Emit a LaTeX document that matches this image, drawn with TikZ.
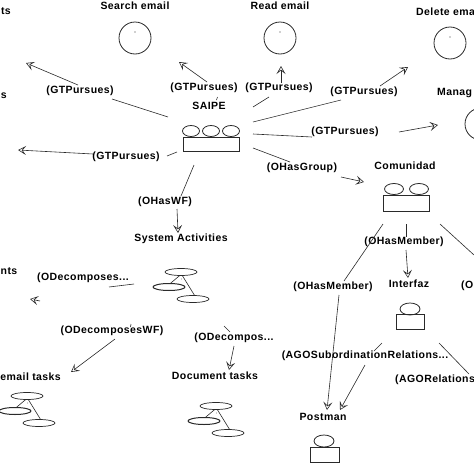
\documentclass[tikz,border=0pt]{standalone}
\usepackage{fontspec}
\setmainfont[LetterSpace=4]{Liberation Sans}
\usepackage{xcolor}
\usepackage{tikz}
\usetikzlibrary{arrows.meta,shapes.geometric}
\definecolor{ink}{HTML}{2A2A2A}
\definecolor{speck}{HTML}{A0A0A0}
\newcommand{\trail}{...}
\tikzset{
  lbl/.style={inner sep=0pt,text=black,font=\fontsize{10.5}{12}\selectfont\bfseries},
  plainlink/.style={draw=ink,line width=0.6pt},
  flow/.style={plainlink,-{Stealth[open,length=8pt,width=9pt,inset=3.5pt]}},
  goalshape/.style={circle,draw=ink,line width=0.8pt,minimum size=32pt,inner sep=0pt,outer sep=0pt},
  headshape/.style={ellipse,draw=ink,line width=0.8pt,inner sep=0pt,outer sep=0pt,minimum width=20pt,minimum height=12pt},
  bodyshape/.style={rectangle,draw=ink,line width=0.7pt,inner sep=0pt,outer sep=0pt},
  taskshape/.style={ellipse,draw=ink,line width=0.7pt,inner sep=0pt,outer sep=0pt,minimum width=32pt,minimum height=7pt}
}
\begin{document}
\begin{tikzpicture}[x=1pt,y=-1pt]
  \useasboundingbox (0,0) rectangle (474,474);
  % goals
  \foreach \n/\x/\y in {goalSearch/135/38,goalRead/280/38,goalDelete/450/43,goalManage/481/124}
    {\node[goalshape] (\n) at (\x,\y) {};
     \fill[speck] (\x,\y-6) circle (0.8);}
  % labels
  \foreach \n/\x/\y/\t in {txtSearch/135/6/Search email,txtRead/280/6/Read email,txtSaipe/209/106/SAIPE,
      txtComunidad/405/166/Comunidad,txtSystem/181/239/System Activities,txtInterfaz/409/284/Interfaz,
      txtPostman/323/417/Postman,txtDocument/215/376/Document tasks,
      relUpLeft/80/91/(GTPursues),relSearch/204/88/(GTPursues),relRead/279/88/(GTPursues),
      relDelete/364/92/(GTPursues),relManage/345/132/(GTPursues),relLeft/126/157/(GTPursues),
      relGroup/302/168/(OHasGroup),relWf/165/202/(OHasWF),relMemberA/404/242/(OHasMember),
      relMemberB/333/287/(OHasMember),relDecA/83/278/(ODecomposes\trail,relDecB/112/331/(ODecomposesWF),
      relDecC/234/338/(ODecompos\trail,relSub/365/356/(AGOSubordinationRelations\trail}
    {\node[lbl] (\n) at (\x,\y) {\t};}
  % cut at the page edge
  \foreach \n/\x/\y/\t in {txtCutA/11/11/ts,txtCutB/7/96/s,txtCutC/17.5/271/nts,txtMail/61/377/email tasks}
    {\node[lbl,anchor=east] (\n) at (\x,\y) {\t};}
  \foreach \n/\x/\y/\t in {txtDelete/416/12/Delete ema,txtManage/437/93/Manag,relCutD/461/286/(O,relOther/395/380/(AGORelations}
    {\node[lbl,anchor=west] (\n) at (\x,\y) {\t};}
  % agents
  \node[bodyshape,minimum width=56pt,minimum height=14pt] (bodySaipe) at (211,144) {};
  \foreach \n/\x in {headSaipeA/191,headSaipeB/211,headSaipeC/231}
    {\node[headshape,minimum width=17pt,minimum height=11pt] (\n) at (\x,131) {};}
  \node[bodyshape,minimum width=46pt,minimum height=16pt] (bodyComunidad) at (406,203) {};
  \foreach \n/\x in {headComA/394,headComB/419}
    {\node[headshape,minimum width=19pt,minimum height=11pt] (\n) at (\x,189) {};}
  \node[bodyshape,minimum width=28pt,minimum height=15pt] (bodyInterfaz) at (410,321.5) {};
  \node[headshape] (headInterfaz) at (410,309) {};
  \node[bodyshape,minimum width=29pt,minimum height=15pt] (bodyPostman) at (324.5,454.5) {};
  \node[headshape] (headPostman) at (324,441) {};
  % workflows
  \foreach \n/\x/\y in {Sys/181/272,Mail/27/396,Doc/216/406}
    {\begin{scope}[shift={(\x,\y)}]
       \node[taskshape] (\n Top) at (0,0) {};
       \node[taskshape,line width=1pt] (\n Left) at (-12,15) {};
       \node[taskshape] (\n Right) at (12,27) {};
       \fill[speck] (0.5,7) circle (0.7);
     \end{scope}
     \draw[plainlink] (\n Top.-110) -- (\n Left.70);
     \draw[plainlink] (\n Top.-70) -- (\n Right.65);}
  % connector ends
  \foreach \n/\x/\y in {a1/168/117,a2/112/99,a3/78/85,a4/26/63,
      b1/207/82,b2/179/62,b3/217.5/97,b4/216.5/100,
      c1/253/107,c2/269/97,c3/281/83,c4/281/66,
      d1/253/122,d2/341/100,d3/380/86,d4/408/67,
      e1/253/134,e2/312/137,e3/399/132,e4/438/125,
      f1/177/152,f2/167/156,f3/93/154,f4/18/150,
      g1/253/148,g2/290/162,g3/341/177,g4/364/182,
      h1/194/165,h2/181/196,h3/177/209,h4/178/233,
      i1/383/224,i2/344/281,i3/339/295,i4/327/410,
      j1/406/224,j2/406/237,j3/406/250,j4/408/278,
      k1/440/224,k2/474/255,
      m1/382/343,m2/374/351,m3/365/365,m4/340/410,
      n1/439/343,n2/469/374,
      p1/134/284,p2/109/287,p3/40/301,p4/30/299,
      q1/131/324,q2/130.5/327,q3/115/339,q4/71/372,
      r1/224/326,r2/230/332,r3/234/346,r4/229/370}
    {\coordinate (\n) at (\x,\y);}
  \foreach \a/\b in {a1/a2,b3/b4,c1/c2,d1/d2,e1/e2,f1/f2,g1/g2,h1/h2,i1/i2,j1/j2,k1/k2,m1/m2,n1/n2,p1/p2,q1/q2,r1/r2}
    {\draw[plainlink] (\a)--(\b);}
  \foreach \a/\b in {a3/a4,b1/b2,c3/c4,d3/d4,e3/e4,f3/f4,g3/g4,h3/h4,i3/i4,j3/j4,m3/m4,p3/p4,q3/q4,r3/r4}
    {\draw[flow] (\a)--(\b);}
\end{tikzpicture}
\end{document}
